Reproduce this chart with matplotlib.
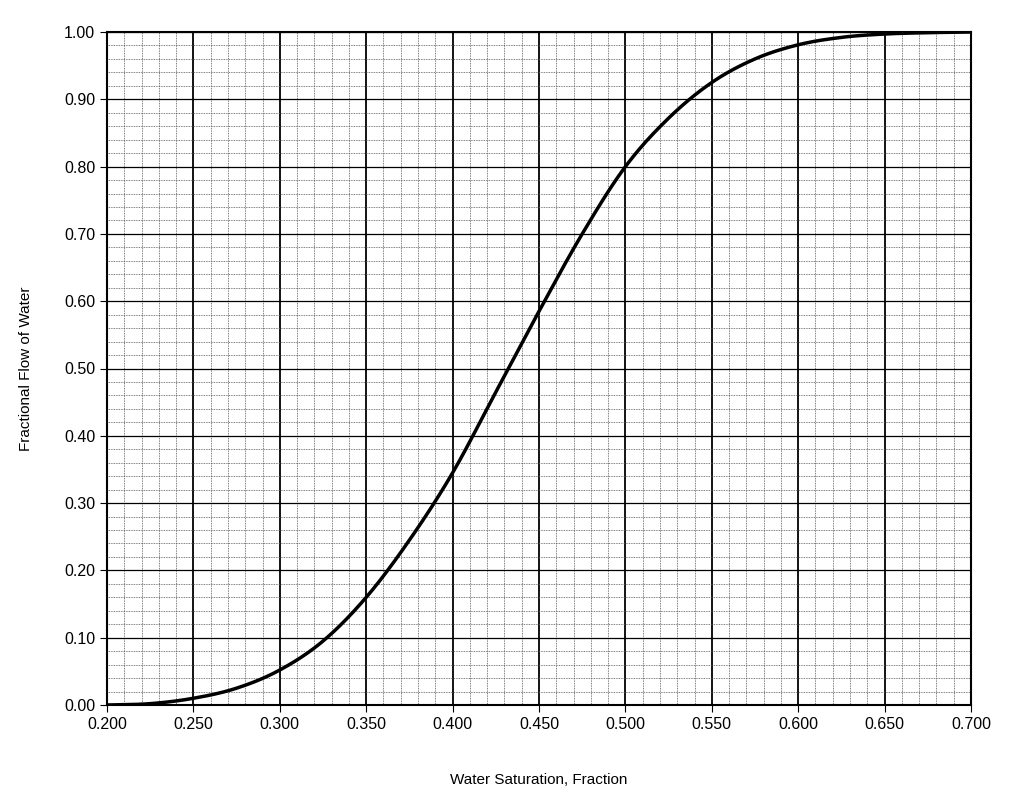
import matplotlib
matplotlib.use("Agg")
import matplotlib.pyplot as plt
import numpy as np

sw = [0.200, 0.225, 0.250, 0.275, 0.300, 0.325, 0.350, 0.375, 0.400, 0.425, 0.450,
      0.475, 0.500, 0.525, 0.550, 0.575, 0.600, 0.625, 0.650, 0.675, 0.700]
fw = [0.000, 0.002, 0.010, 0.025, 0.052, 0.095, 0.160, 0.245, 0.345, 0.465, 0.585,
      0.700, 0.800, 0.872, 0.925, 0.960, 0.981, 0.992, 0.997, 0.999, 1.000]

plt.rcParams['font.family'] = ['Liberation Sans', 'DejaVu Sans']
fig = plt.figure(figsize=(10.24, 8.06), dpi=100)
ax = fig.add_axes([107/1024, 1-705/806, (971-107)/1024, (705-32)/806])

x = np.array(sw); y = np.array(fw)
d = np.diff(y)/np.diff(x)
m = np.concatenate([[d[0]], (d[:-1]+d[1:])/2, [d[-1]]])
xs, ys = [], []
for i in range(len(x)-1):
    t = np.linspace(0, 1, 20, endpoint=False)
    h = x[i+1]-x[i]
    h00 = 2*t**3-3*t**2+1; h10 = t**3-2*t**2+t; h01 = -2*t**3+3*t**2; h11 = t**3-t**2
    xs.extend(x[i]+t*h)
    ys.extend(h00*y[i]+h10*h*m[i]+h01*y[i+1]+h11*h*m[i+1])
xs.append(x[-1]); ys.append(y[-1])
ax.plot(xs, ys, color='black', lw=2.5, zorder=5)

ax.set_xlim(0.2, 0.7); ax.set_ylim(0, 1)
ax.set_xticks(np.arange(0.2, 0.7001, 0.05))
ax.set_xticklabels([f"{v:.3f}" for v in np.arange(0.2, 0.7001, 0.05)])
ax.set_yticks(np.arange(0, 1.0001, 0.1))
ax.set_yticklabels([f"{v:.2f}" for v in np.arange(0, 1.0001, 0.1)])
ax.set_xticks(np.arange(0.2, 0.7001, 0.01), minor=True)
ax.set_yticks(np.arange(0, 1.0001, 0.02), minor=True)
ax.grid(which='major', axis='x', color='black', lw=1.3)
ax.grid(which='major', axis='y', color='black', lw=0.9)
ax.grid(which='minor', color='#555555', lw=0.6, ls=(0, (1, 1)))
ax.tick_params(which='minor', length=0)
ax.tick_params(which='major', labelsize=11.5, length=5)
for s in ax.spines.values():
    s.set_linewidth(1.5)
ax.set_xlabel("Water Saturation, Fraction", fontsize=11, labelpad=30)
ax.set_ylabel("Fractional Flow of Water", fontsize=11, labelpad=22)
fig.savefig("out.png", dpi=100)
